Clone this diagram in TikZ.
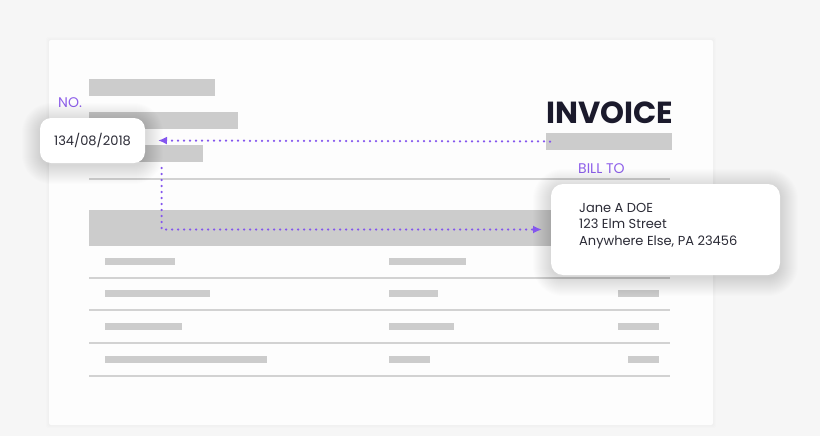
\documentclass[tikz,border=0pt]{standalone}
\usepackage{fontspec}
\setmainfont{Poppins}
\usetikzlibrary{arrows.meta}
\definecolor{bgc}{HTML}{F6F6F6}
\definecolor{pagec}{HTML}{FDFDFD}
\definecolor{barc}{HTML}{CCCCCC}
\definecolor{linec}{HTML}{D2D2D2}
\definecolor{purp}{HTML}{8E5FEA}
\definecolor{arrc}{HTML}{8456EE}
\definecolor{ink}{HTML}{2B2B36}
\definecolor{title}{HTML}{1B1A2C}
\tikzset{
  graybar/.style={fill=barc, draw=none, inner sep=0pt, outer sep=0pt, rectangle},
  rule/.style={draw=linec, line width=1.5pt},
  card/.style={fill=white, draw=none, rounded corners=12pt, inner sep=0pt, outer sep=0pt},
  softshadow/.style={fill=black, opacity=0.0065},
  dotarrow/.style={draw=arrc, line width=2.5pt, line cap=round, dash pattern=on 0pt off 6pt,
    -{Latex[length=9pt,width=8pt]}},
  lbl/.style={text=purp, font=\fontsize{14}{16}\selectfont, inner sep=0pt, anchor=west},
}
\begin{document}
\begin{tikzpicture}[x=1pt,y=-1pt]
\fill[bgc] (0,0) rectangle (820,436);
\useasboundingbox (0,0) rectangle (820,436);
% page
\foreach \i in {1,2,3} \fill[black, opacity=0.006, rounded corners=2pt] (49-\i,40-\i) rectangle (713+\i,425+\i);
\fill[pagec, rounded corners=2pt] (49,40) rectangle (713,425);
% top-left bars
\node[graybar, minimum width=126pt, minimum height=17pt, anchor=north west] (bar1) at (89,79) {};
\node[graybar, minimum width=149pt, minimum height=17pt, anchor=north west] (bar2) at (89,112) {};
\node[graybar, minimum width=114pt, minimum height=17pt, anchor=north west] (bar3) at (89,145) {};
% INVOICE
\node[anchor=south west, inner sep=0pt, text=title, font=\fontsize{30.5}{32}\bfseries\selectfont] (inv) at (546,124) {INVOICE};
\node[graybar, minimum width=126pt, minimum height=17pt, anchor=north west] (invbar) at (546,133) {};
\node[lbl] (billto) at (578,169) {BILL TO};
\node[lbl] (no) at (58,103) {NO.};
% header rule
\draw[rule] (89,179) -- (670,179);
% table header bar
\node[graybar, minimum width=581pt, minimum height=36pt, anchor=north west] (head) at (89,210) {};
% rows
\foreach \y in {278,310,343,376} \draw[rule] (89,\y) -- (670,\y);
\foreach \a/\b/\y in {105/175/258, 389/466/258,
                     105/210/290, 389/438/290, 618/659/290,
                     105/182/323, 389/454/323, 618/659/323,
                     105/267/356, 389/430/356, 628/659/356}
  \fill[barc] (\a,\y) rectangle (\b,\y+7);
% card shadows
\foreach \i in {0,...,18} {
  \fill[softshadow, rounded corners=11pt+\i] (40-\i,121-\i) rectangle (145+\i,166+\i);
  \fill[softshadow, rounded corners=12pt+\i] (551-\i,187-\i) rectangle (780+\i,278+\i);
}
% cards
\node[card, minimum width=105pt, minimum height=45pt, anchor=north west, rounded corners=11pt] (date) at (40,118) {};
\node[text=ink, font=\fontsize{13}{15}\selectfont, inner sep=0pt] (datetxt) at (date.center) {134/08/2018};
\node[card, minimum width=229pt, minimum height=91pt, anchor=north west] (bill) at (551,184) {};
\node[anchor=north west, text=ink, align=left, inner sep=0pt, font=\fontsize{13}{16.5}\selectfont] (billtxt) at (579,203)
  {Jane A DOE\\123 Elm Street\\Anywhere Else, PA 23456};
% connectors
\draw[dotarrow, shorten >=13pt, shorten <=-4pt] (invbar.west) -- (date.east);
\draw[dotarrow, shorten >=9pt, shorten <=6pt] ([xshift=15.5pt]bar3.south) |- (bill.west);
\end{tikzpicture}
\end{document}
